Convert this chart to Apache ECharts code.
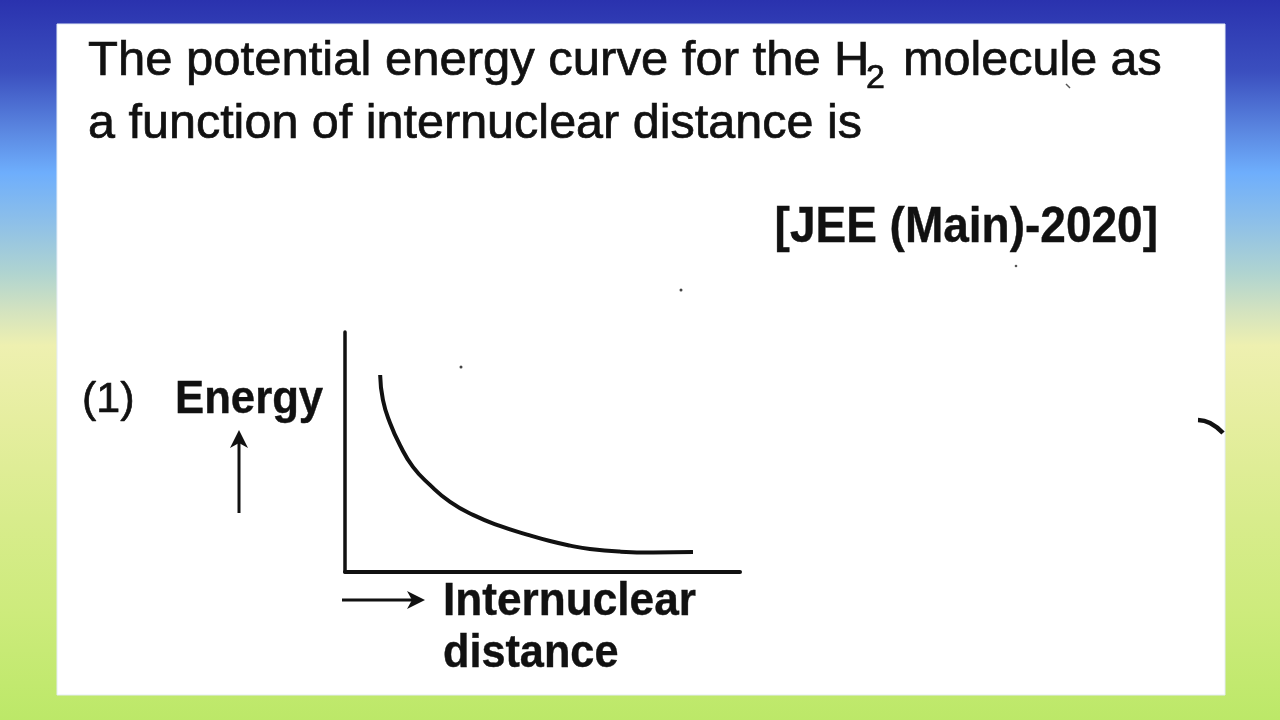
<!DOCTYPE html>
<html>
<head>
<meta charset="utf-8">
<script src="https://cdn.jsdelivr.net/npm/echarts@6/dist/echarts.min.js"></script>
<style>
html,body{margin:0;padding:0;width:1280px;height:720px;overflow:hidden;}
#main{width:1280px;height:720px;
background:linear-gradient(to bottom,#2a32ae 0%,#3b4fbf 10%,#5a86e0 18%,#6eaefc 24%,#8ec0e8 31%,#b0d4d0 38%,#d2e2c0 43%,#eef0b0 48%,#e6eea0 58%,#d8ec8c 72%,#cdeb7c 85%,#bce868 100%);}
</style>
</head>
<body>
<div id="main"></div>
<script>
// Data (arbitrary units)
const distance = [0.89, 0.96, 1.14, 1.39, 1.72, 2.15, 2.66, 3.24, 3.92, 4.61, 5.19, 5.70, 6.20, 6.96, 7.80, 8.81];
const energy   = [8.21, 7.17, 6.21, 5.29, 4.38, 3.63, 2.92, 2.38, 1.92, 1.56, 1.29, 1.10, 0.96, 0.85, 0.81, 0.83];

const questionLine1a = 'The potential energy curve for the';
const questionH = 'H';
const questionSub = '2';
const questionLine1b = 'molecule as';
const questionLine2 = 'a function of internuclear distance is';
const sourceTag = '[JEE (Main)-2020]';
const optionLabel = '(1)';
const yLabel = 'Energy';
const xLabel1 = 'Internuclear';
const xLabel2 = 'distance';

const chart = echarts.init(document.getElementById('main'));
const F = '"Liberation Sans", Arial, Helvetica, sans-serif';
const ink = '#111';

function txt(text, x, y, size, weight, align, sx) {
  return {type:'text', x: x, y: y, z: 10, scaleX: sx || 1,
    style:{text: text, fill: ink, stroke: ink, lineWidth: weight === 'bold' ? 0.4 : 0.7,
      font: (weight||'normal') + ' ' + size + 'px ' + F,
      align: align || 'left', verticalAlign: 'middle'}};
}

chart.setOption({
  backgroundColor: 'transparent',
  animation: false,
  grid: {left: 345, top: 332, width: 395, height: 240, containLabel: false},
  xAxis: {type: 'value', min: 0, max: 10,
    axisLine: {show: true, onZero: false, lineStyle: {color: ink, width: 4}},
    axisTick: {show: false}, axisLabel: {show: false}, splitLine: {show: false}},
  yAxis: {type: 'value', min: 0, max: 10,
    axisLine: {show: true, onZero: false, lineStyle: {color: ink, width: 3.5}},
    axisTick: {show: false}, axisLabel: {show: false}, splitLine: {show: false}},
  series: [{
    type: 'line', smooth: 0.5, symbol: 'none', z: 5,
    data: distance.map((d, i) => [d, energy[i]]),
    lineStyle: {color: ink, width: 4}
  }],
  graphic: [
    {type:'rect', shape:{x:57, y:24, width:1168, height:671}, style:{fill:'#ffffff', stroke:'#e4ecf6', lineWidth:1}, z:0},
    txt(questionLine1a, 88, 61, 49),
    txt(questionH, 834, 61, 49),
    txt(questionSub, 866, 79, 34),
    txt(questionLine1b, 903, 61, 49, 'normal', 'left', 0.99),
    txt(questionLine2, 88, 124, 49, 'normal', 'left', 0.99),
    txt(sourceTag, 1158, 228, 50, 'bold', 'right', 0.92),
    txt(optionLabel, 82, 400, 43),
    txt(yLabel, 175, 400, 46, 'bold', 'left', 0.95),
    txt(xLabel1, 443, 602, 47, 'bold', 'left', 0.94),
    txt(xLabel2, 443, 654, 46, 'bold', 'left', 0.94),
    // up arrow
    {type:'line', shape:{x1:239, y1:513, x2:239, y2:440}, style:{stroke:ink, lineWidth:3}, z:10},
    {type:'polygon', shape:{points:[[239,430],[248,448],[239,443],[230,448]]}, style:{fill:ink}, z:10},
    // right arrow
    {type:'line', shape:{x1:342, y1:600, x2:414, y2:600}, style:{stroke:ink, lineWidth:3}, z:10},
    {type:'polygon', shape:{points:[[425,600],[407,591],[412,600],[407,609]]}, style:{fill:ink}, z:10},
    // scan specks
    {type:'circle', shape:{cx:461, cy:367, r:1.5}, style:{fill:'#444'}, z:10},
    {type:'circle', shape:{cx:681, cy:290, r:1.5}, style:{fill:'#444'}, z:10},
    {type:'circle', shape:{cx:1016, cy:266, r:1.3}, style:{fill:'#555'}, z:10},
    {type:'line', shape:{x1:1066, y1:84, x2:1070, y2:88}, style:{stroke:'#555', lineWidth:1.5}, z:10},
    {type:'polyline', shape:{points:[[1198,420],[1210,423],[1223,433]], smooth:0.5}, style:{stroke:ink, lineWidth:4.5, fill:null}, z:10}
  ]
});
</script>
</body>
</html>
